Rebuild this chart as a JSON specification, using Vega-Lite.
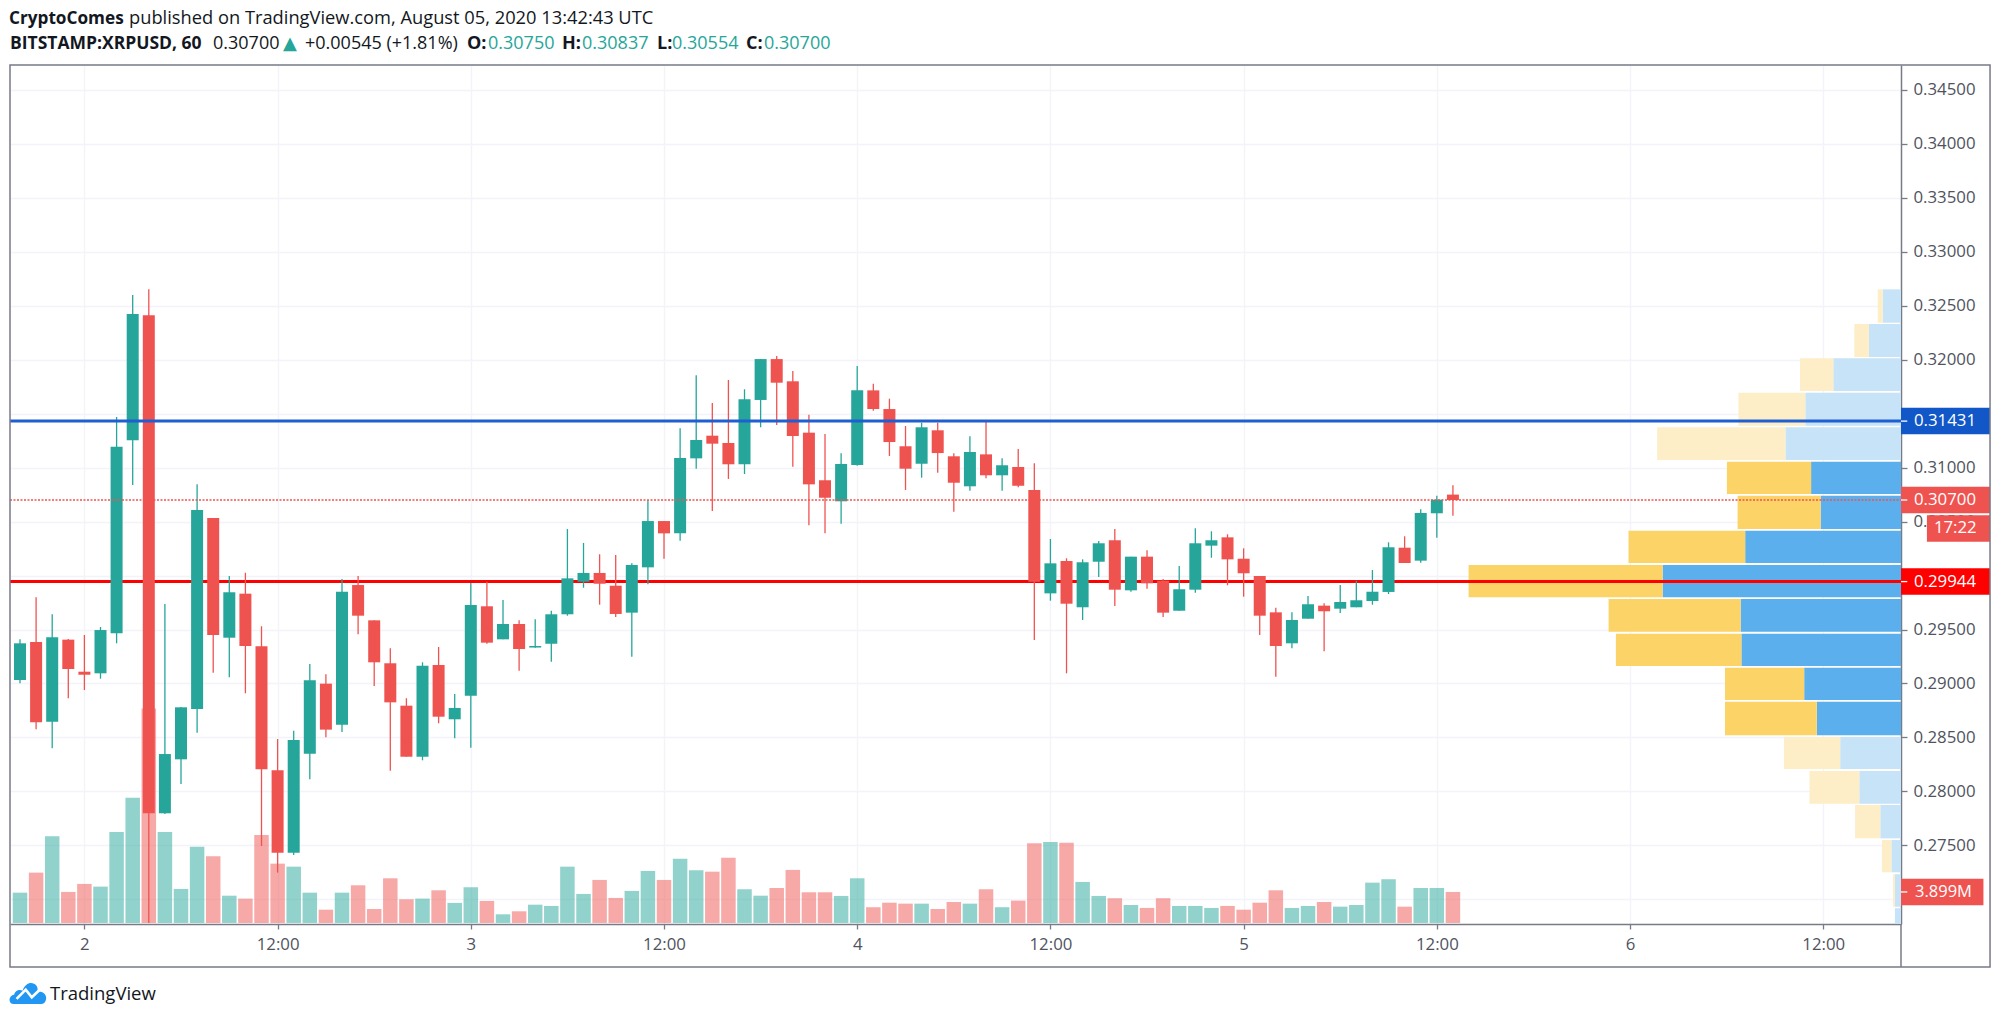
{
  "$schema": "https://vega.github.io/schema/vega-lite/v6.json",
  "autosize": {"type": "none"},
  "width": 1891,
  "height": 859,
  "padding": {"left": 10, "top": 65, "right": 99, "bottom": 97},
  "background": "white",
  "config": {"view": {"stroke": null}},
  "datasets": {
    "candles": [
      {"hour":-4,"open":0.29032,"high":0.29409,"low":0.29002,"close":0.29372,"volume":3.81},
      {"hour":-3,"open":0.29384,"high":0.29798,"low":0.28575,"close":0.2864,"volume":6.33},
      {"hour":-2,"open":0.28646,"high":0.29641,"low":0.28399,"close":0.29428,"volume":10.91},
      {"hour":-1,"open":0.29406,"high":0.29412,"low":0.28863,"close":0.29134,"volume":3.9},
      {"hour":0,"open":0.29109,"high":0.29449,"low":0.28939,"close":0.29081,"volume":4.91},
      {"hour":1,"open":0.29094,"high":0.29523,"low":0.29044,"close":0.29495,"volume":4.57},
      {"hour":2,"open":0.29465,"high":0.31469,"low":0.29372,"close":0.31194,"volume":11.45},
      {"hour":3,"open":0.31253,"high":0.326,"low":0.30839,"close":0.32423,"volume":15.76},
      {"hour":4,"open":0.32411,"high":0.32652,"low":0.2678,"close":0.27797,"volume":26.96},
      {"hour":5,"open":0.27797,"high":0.29736,"low":0.27791,"close":0.28346,"volume":11.45},
      {"hour":6,"open":0.28297,"high":0.28782,"low":0.28068,"close":0.28779,"volume":4.28},
      {"hour":7,"open":0.28763,"high":0.30845,"low":0.28544,"close":0.30607,"volume":9.6},
      {"hour":8,"open":0.30533,"high":0.30533,"low":0.291,"close":0.29449,"volume":8.39},
      {"hour":9,"open":0.29424,"high":0.29996,"low":0.29057,"close":0.29845,"volume":3.43},
      {"hour":10,"open":0.29832,"high":0.30026,"low":0.28909,"close":0.29347,"volume":3.06},
      {"hour":11,"open":0.29344,"high":0.2953,"low":0.27494,"close":0.28205,"volume":11.07},
      {"hour":12,"open":0.28195,"high":0.28485,"low":0.27247,"close":0.27432,"volume":7.46},
      {"hour":13,"open":0.27432,"high":0.28562,"low":0.27411,"close":0.28476,"volume":7.08},
      {"hour":14,"open":0.28349,"high":0.2918,"low":0.28112,"close":0.29029,"volume":3.81},
      {"hour":15,"open":0.28998,"high":0.29085,"low":0.28501,"close":0.28572,"volume":1.67},
      {"hour":16,"open":0.28618,"high":0.29968,"low":0.2855,"close":0.2985,"volume":3.81},
      {"hour":17,"open":0.29912,"high":0.29996,"low":0.29456,"close":0.29628,"volume":4.74},
      {"hour":18,"open":0.29585,"high":0.29585,"low":0.28977,"close":0.29196,"volume":1.76},
      {"hour":19,"open":0.29187,"high":0.29326,"low":0.28192,"close":0.28825,"volume":5.62},
      {"hour":20,"open":0.28794,"high":0.28863,"low":0.28321,"close":0.28321,"volume":2.98},
      {"hour":21,"open":0.28321,"high":0.29196,"low":0.28288,"close":0.29165,"volume":3.06},
      {"hour":22,"open":0.29171,"high":0.29338,"low":0.28631,"close":0.28692,"volume":4.11},
      {"hour":23,"open":0.28668,"high":0.28902,"low":0.28492,"close":0.28773,"volume":2.52},
      {"hour":24,"open":0.28887,"high":0.29931,"low":0.28405,"close":0.29727,"volume":4.49},
      {"hour":25,"open":0.29715,"high":0.29943,"low":0.29368,"close":0.29378,"volume":2.77},
      {"hour":26,"open":0.29409,"high":0.29773,"low":0.29409,"close":0.29551,"volume":1.09},
      {"hour":27,"open":0.29551,"high":0.29585,"low":0.29118,"close":0.29319,"volume":1.47},
      {"hour":28,"open":0.29333,"high":0.29595,"low":0.29331,"close":0.29347,"volume":2.3},
      {"hour":29,"open":0.29368,"high":0.29674,"low":0.29202,"close":0.29641,"volume":2.14},
      {"hour":30,"open":0.29641,"high":0.30431,"low":0.29628,"close":0.29974,"volume":7.08},
      {"hour":31,"open":0.29943,"high":0.30302,"low":0.29887,"close":0.30024,"volume":3.65},
      {"hour":32,"open":0.30024,"high":0.30197,"low":0.2973,"close":0.29924,"volume":5.41},
      {"hour":33,"open":0.29906,"high":0.3019,"low":0.29616,"close":0.29644,"volume":3.15},
      {"hour":34,"open":0.29656,"high":0.30113,"low":0.29248,"close":0.30098,"volume":4.03},
      {"hour":35,"open":0.30076,"high":0.30697,"low":0.29919,"close":0.30505,"volume":6.54},
      {"hour":36,"open":0.30505,"high":0.30505,"low":0.30156,"close":0.30391,"volume":5.41},
      {"hour":37,"open":0.30391,"high":0.31364,"low":0.30323,"close":0.31089,"volume":8.09},
      {"hour":38,"open":0.31086,"high":0.31855,"low":0.3099,"close":0.31256,"volume":6.63},
      {"hour":39,"open":0.31296,"high":0.31599,"low":0.30598,"close":0.31222,"volume":6.45},
      {"hour":40,"open":0.31228,"high":0.31812,"low":0.30895,"close":0.31031,"volume":8.21},
      {"hour":41,"open":0.31031,"high":0.31726,"low":0.30941,"close":0.31633,"volume":4.24},
      {"hour":42,"open":0.31627,"high":0.32006,"low":0.31374,"close":0.32006,"volume":3.43},
      {"hour":43,"open":0.32006,"high":0.32034,"low":0.31395,"close":0.31787,"volume":4.4},
      {"hour":44,"open":0.318,"high":0.31895,"low":0.31009,"close":0.31293,"volume":6.67},
      {"hour":45,"open":0.31324,"high":0.3149,"low":0.30466,"close":0.30845,"volume":3.86},
      {"hour":46,"open":0.30883,"high":0.31312,"low":0.30391,"close":0.30721,"volume":3.86},
      {"hour":47,"open":0.30688,"high":0.31133,"low":0.3048,"close":0.31034,"volume":3.4},
      {"hour":48,"open":0.31024,"high":0.31942,"low":0.31018,"close":0.31716,"volume":5.62},
      {"hour":49,"open":0.31716,"high":0.31778,"low":0.31527,"close":0.31543,"volume":1.98},
      {"hour":50,"open":0.31543,"high":0.31639,"low":0.31108,"close":0.31237,"volume":2.55},
      {"hour":51,"open":0.31198,"high":0.31386,"low":0.30793,"close":0.3099,"volume":2.43},
      {"hour":52,"open":0.31036,"high":0.31416,"low":0.30907,"close":0.31374,"volume":2.43},
      {"hour":53,"open":0.31346,"high":0.31416,"low":0.30953,"close":0.31135,"volume":1.76},
      {"hour":54,"open":0.31105,"high":0.31133,"low":0.30592,"close":0.3086,"volume":2.64},
      {"hour":55,"open":0.30827,"high":0.3129,"low":0.30786,"close":0.31145,"volume":2.43},
      {"hour":56,"open":0.31123,"high":0.31426,"low":0.30901,"close":0.30929,"volume":4.24},
      {"hour":57,"open":0.30929,"high":0.31086,"low":0.30786,"close":0.31022,"volume":1.98},
      {"hour":58,"open":0.31006,"high":0.31173,"low":0.30818,"close":0.30832,"volume":2.81},
      {"hour":59,"open":0.30793,"high":0.3104,"low":0.29403,"close":0.29943,"volume":10.03},
      {"hour":60,"open":0.29835,"high":0.30339,"low":0.29767,"close":0.30113,"volume":10.19},
      {"hour":61,"open":0.30135,"high":0.3016,"low":0.29094,"close":0.29739,"volume":10.1},
      {"hour":62,"open":0.29706,"high":0.3015,"low":0.29588,"close":0.30123,"volume":5.16},
      {"hour":63,"open":0.30128,"high":0.3032,"low":0.29987,"close":0.30299,"volume":3.4},
      {"hour":64,"open":0.30327,"high":0.30431,"low":0.29718,"close":0.29869,"volume":3.11},
      {"hour":65,"open":0.29863,"high":0.30175,"low":0.2985,"close":0.30175,"volume":2.26},
      {"hour":66,"open":0.30175,"high":0.30234,"low":0.29878,"close":0.29928,"volume":1.89},
      {"hour":67,"open":0.29952,"high":0.29968,"low":0.29616,"close":0.29656,"volume":3.11},
      {"hour":68,"open":0.29674,"high":0.30088,"low":0.29674,"close":0.29873,"volume":2.14},
      {"hour":69,"open":0.29869,"high":0.30438,"low":0.29841,"close":0.30299,"volume":2.14},
      {"hour":70,"open":0.30277,"high":0.3041,"low":0.30165,"close":0.30327,"volume":1.89},
      {"hour":71,"open":0.30354,"high":0.30382,"low":0.2991,"close":0.3015,"volume":2.14},
      {"hour":72,"open":0.30156,"high":0.30252,"low":0.29804,"close":0.30021,"volume":1.67},
      {"hour":73,"open":0.29996,"high":0.29996,"low":0.29449,"close":0.29628,"volume":2.55},
      {"hour":74,"open":0.29659,"high":0.29702,"low":0.29063,"close":0.29347,"volume":4.11},
      {"hour":75,"open":0.29372,"high":0.29659,"low":0.29326,"close":0.29588,"volume":1.89},
      {"hour":76,"open":0.296,"high":0.2981,"low":0.296,"close":0.29734,"volume":2.14},
      {"hour":77,"open":0.29721,"high":0.29743,"low":0.29298,"close":0.29669,"volume":2.64},
      {"hour":78,"open":0.29693,"high":0.29912,"low":0.29653,"close":0.29755,"volume":2.05},
      {"hour":79,"open":0.29706,"high":0.29952,"low":0.29706,"close":0.29771,"volume":2.26},
      {"hour":80,"open":0.29764,"high":0.30051,"low":0.2973,"close":0.2985,"volume":5.07},
      {"hour":81,"open":0.29848,"high":0.30308,"low":0.29829,"close":0.30262,"volume":5.5},
      {"hour":82,"open":0.30258,"high":0.30364,"low":0.30116,"close":0.30116,"volume":2.05},
      {"hour":83,"open":0.30138,"high":0.30614,"low":0.30119,"close":0.3058,"volume":4.4},
      {"hour":84,"open":0.30577,"high":0.3074,"low":0.30351,"close":0.30703,"volume":4.4},
      {"hour":85,"open":0.3075,"high":0.30837,"low":0.30554,"close":0.307,"volume":3.899}
    ],
    "profile": [
      {"low":0.32343,"high":0.32652,"part":"upOut","from":0,"to":18.4},
      {"low":0.32343,"high":0.32652,"part":"downOut","from":18.4,"to":23.3},
      {"low":0.32025,"high":0.32331,"part":"upOut","from":0,"to":32.1},
      {"low":0.32025,"high":0.32331,"part":"downOut","from":32.1,"to":46.7},
      {"low":0.3171,"high":0.32013,"part":"upOut","from":0,"to":67.7},
      {"low":0.3171,"high":0.32013,"part":"downOut","from":67.7,"to":101},
      {"low":0.31388,"high":0.31694,"part":"upOut","from":0,"to":95.7},
      {"low":0.31388,"high":0.31694,"part":"downOut","from":95.7,"to":162.6},
      {"low":0.31071,"high":0.31374,"part":"upOut","from":0,"to":115.6},
      {"low":0.31071,"high":0.31374,"part":"downOut","from":115.6,"to":243.8},
      {"low":0.30756,"high":0.31055,"part":"up","from":0,"to":89.9},
      {"low":0.30756,"high":0.31055,"part":"down","from":89.9,"to":174.1},
      {"low":0.30431,"high":0.3074,"part":"up","from":0,"to":80.4},
      {"low":0.30431,"high":0.3074,"part":"down","from":80.4,"to":163.4},
      {"low":0.30116,"high":0.30416,"part":"up","from":0,"to":155.8},
      {"low":0.30116,"high":0.30416,"part":"down","from":155.8,"to":272.5},
      {"low":0.29798,"high":0.30098,"part":"up","from":0,"to":238.4},
      {"low":0.29798,"high":0.30098,"part":"down","from":238.4,"to":432.4},
      {"low":0.2948,"high":0.29783,"part":"up","from":0,"to":160.4},
      {"low":0.2948,"high":0.29783,"part":"down","from":160.4,"to":292.4},
      {"low":0.29162,"high":0.29461,"part":"up","from":0,"to":159.6},
      {"low":0.29162,"high":0.29461,"part":"down","from":159.6,"to":285.1},
      {"low":0.28847,"high":0.29146,"part":"up","from":0,"to":96.8},
      {"low":0.28847,"high":0.29146,"part":"down","from":96.8,"to":176},
      {"low":0.2852,"high":0.28831,"part":"up","from":0,"to":84.2},
      {"low":0.2852,"high":0.28831,"part":"down","from":84.2,"to":176},
      {"low":0.28207,"high":0.28504,"part":"upOut","from":0,"to":60.8},
      {"low":0.28207,"high":0.28504,"part":"downOut","from":60.8,"to":117.1},
      {"low":0.27886,"high":0.28189,"part":"upOut","from":0,"to":41.7},
      {"low":0.27886,"high":0.28189,"part":"downOut","from":41.7,"to":91.5},
      {"low":0.27565,"high":0.27874,"part":"upOut","from":0,"to":20.7},
      {"low":0.27565,"high":0.27874,"part":"downOut","from":20.7,"to":45.9},
      {"low":0.2725,"high":0.27549,"part":"upOut","from":0,"to":9.6},
      {"low":0.2725,"high":0.27549,"part":"downOut","from":9.6,"to":19.1},
      {"low":0.26931,"high":0.27232,"part":"upOut","from":0,"to":6.1},
      {"low":0.26931,"high":0.27232,"part":"downOut","from":6.1,"to":8},
      {"low":0.26771,"high":0.26917,"part":"upOut","from":0,"to":6.1}
    ],
    "tags": [
      {"price":0.31431,"label":"0.31431","kind":"blue"},
      {"price":0.307,"label":"0.30700","kind":"last"},
      {"price":0.29944,"label":"0.29944","kind":"red"}
    ]
  },
  "resolve": {
    "scale": {"x": "independent", "y": "independent", "color": "independent"},
    "axis": {"x": "independent", "y": "independent"}
  },
  "layer": [
    {
      "layer": [
        {
          "data": {"name": "candles"},
          "mark": {"type": "bar", "size": 14.5, "opacity": 0.5},
          "encoding": {
            "x": {"field": "hour", "type": "quantitative", "axis": null, "scale": {"domain": [-4.621, 112.83], "nice": false, "zero": false, "padding": 0}},
            "y": {"field": "volume", "type": "quantitative", "axis": null, "stack": null, "scale": {"domain": [-0.13, 107.9], "zero": false, "nice": false}},
            "color": {"condition": {"test": "datum.close >= datum.open", "value": "#26a69a"}, "value": "#ef5350"}
          }
        },
        {
          "data": {"values": [{"volume": 3.899, "label": "3.899M"}]},
          "mark": {"type": "rule", "strokeWidth": 26.5, "color": "#ef5350"},
          "encoding": {
            "x": {"datum": 112.83, "type": "quantitative", "axis": null},
            "x2": {"datum": 117.95},
            "y": {"field": "volume", "type": "quantitative", "axis": null}
          }
        },
        {
          "data": {"values": [{"volume": 3.899, "label": "3.899M"}]},
          "mark": {"type": "rule", "strokeWidth": 1.3, "color": "white"},
          "encoding": {
            "x": {"datum": 112.83, "type": "quantitative", "axis": null},
            "x2": {"datum": 113.22},
            "y": {"field": "volume", "type": "quantitative", "axis": null}
          }
        },
        {
          "data": {"values": [{"volume": 3.899, "label": "3.899M"}]},
          "mark": {"type": "text", "align": "left", "baseline": "middle", "dx": 14, "color": "white", "font": "Open Sans", "fontSize": 16.5},
          "encoding": {
            "x": {"datum": 112.83, "type": "quantitative", "axis": null},
            "y": {"field": "volume", "type": "quantitative", "axis": null},
            "text": {"field": "label"}
          }
        }
      ]
    },
    {
      "data": {"name": "profile"},
      "mark": {"type": "rect"},
      "encoding": {
        "x": {"field": "from", "type": "quantitative", "axis": null, "scale": {"domain": [0, 1891], "reverse": true, "nice": false, "zero": false}},
        "x2": {"field": "to"},
        "y": {"field": "low", "type": "quantitative", "axis": null, "scale": {"domain": [0.26771, 0.34731], "nice": false, "zero": false}},
        "y2": {"field": "high"},
        "color": {"field": "part", "type": "nominal", "legend": null, "scale": {"domain": ["up", "down", "upOut", "downOut"], "range": ["#5aafec", "#fbd366", "#c6e3f7", "#fdeec8"]}}
      }
    },
    {
      "layer": [
        {
          "data": {"values": [{}]},
          "mark": {"type": "rule", "color": "#ff0000", "strokeWidth": 3},
          "encoding": {
            "y": {
              "datum": 0.29944,
              "type": "quantitative",
              "scale": {"domain": [0.26771, 0.34731], "nice": false, "zero": false},
              "axis": {"orient": "right", "title": null, "values": [0.27,0.275,0.28,0.285,0.29,0.295,0.3,0.305,0.31,0.315,0.32,0.325,0.33,0.335,0.34,0.345], "labelExpr": "datum.value === 0.3 || datum.value === 0.315 ? '' : format(datum.value, '.5f')", "grid": true, "gridColor": "#f2f4f9", "gridWidth": 1.4, "domainColor": "#787b86", "domainWidth": 1.5, "tickColor": "#787b86", "tickWidth": 1.3, "tickSize": 6, "labelColor": "#50535e", "labelFont": "Open Sans", "labelFontSize": 16.8, "labelPadding": 6, "labelOverlap": false}
            },
            "x": {
              "datum": -4.621,
              "type": "quantitative",
              "scale": {"domain": [-4.621, 112.83], "nice": false, "zero": false, "padding": 0},
              "axis": {"orient": "bottom", "title": null, "values": [0,12,24,36,48,60,72,84,96,108], "labelExpr": "datum.value % 24 === 0 ? '' + (2 + datum.value / 24) : '12:00'", "grid": true, "gridColor": "#f2f4f9", "gridWidth": 1.4, "domainColor": "#787b86", "domainWidth": 1.5, "tickColor": "#787b86", "tickWidth": 1.3, "tickSize": 5, "labelColor": "#50535e", "labelFont": "Open Sans", "labelFontSize": 16.8, "labelPadding": 7, "labelFlush": false, "labelOverlap": false}
            },
            "x2": {"datum": 112.83}
          }
        },
        {
          "data": {"name": "candles"},
          "mark": {"type": "rule", "strokeWidth": 1.3},
          "encoding": {
            "x": {"field": "hour", "type": "quantitative"},
            "y": {"field": "low", "type": "quantitative"},
            "y2": {"field": "high"},
            "color": {"condition": {"test": "datum.close >= datum.open", "value": "#26a69a"}, "value": "#ef5350"}
          }
        },
        {
          "data": {"name": "candles"},
          "mark": {"type": "bar", "size": 12},
          "encoding": {
            "x": {"field": "hour", "type": "quantitative"},
            "y": {"field": "open", "type": "quantitative"},
            "y2": {"field": "close"},
            "color": {"condition": {"test": "datum.close >= datum.open", "value": "#26a69a"}, "value": "#ef5350"}
          }
        },
        {
          "data": {"values": [{}]},
          "mark": {"type": "rule", "color": "#1f5fd1", "strokeWidth": 3},
          "encoding": {
            "x": {"datum": -4.621, "type": "quantitative"},
            "x2": {"datum": 112.83},
            "y": {"datum": 0.31431, "type": "quantitative"}
          }
        },
        {
          "data": {"values": [{}]},
          "mark": {"type": "rule", "color": "#ef5350", "strokeWidth": 1.5, "strokeDash": [2, 1.5]},
          "encoding": {
            "x": {"datum": -4.621, "type": "quantitative"},
            "x2": {"datum": 112.83},
            "y": {"datum": 0.307, "type": "quantitative"}
          }
        },
        {
          "data": {"name": "tags"},
          "mark": {"type": "rule", "strokeWidth": 26.5},
          "encoding": {
            "x": {"datum": 112.83, "type": "quantitative"},
            "x2": {"datum": 118.36},
            "y": {"field": "price", "type": "quantitative"},
            "color": {"field": "kind", "type": "nominal", "legend": null, "scale": {"domain": ["blue", "last", "red"], "range": ["#1257c8", "#ef5350", "#ff0000"]}}
          }
        },
        {
          "data": {"name": "tags"},
          "mark": {"type": "rule", "strokeWidth": 1.3, "color": "white"},
          "encoding": {
            "x": {"datum": 112.83, "type": "quantitative"},
            "x2": {"datum": 113.22},
            "y": {"field": "price", "type": "quantitative"}
          }
        },
        {
          "data": {"name": "tags"},
          "mark": {"type": "text", "align": "left", "baseline": "middle", "dx": 13, "color": "white", "font": "Open Sans", "fontSize": 16.8},
          "encoding": {
            "x": {"datum": 112.83, "type": "quantitative"},
            "y": {"field": "price", "type": "quantitative"},
            "text": {"field": "label"}
          }
        },
        {
          "data": {"values": [{"price": 0.30436, "label": "17:22"}]},
          "mark": {"type": "rule", "strokeWidth": 26.5, "color": "#ef5350"},
          "encoding": {
            "x": {"datum": 114.44, "type": "quantitative"},
            "x2": {"datum": 118.36},
            "y": {"field": "price", "type": "quantitative"}
          }
        },
        {
          "data": {"values": [{"price": 0.30436, "label": "17:22"}]},
          "mark": {"type": "text", "align": "left", "baseline": "middle", "dx": 7, "color": "white", "font": "Open Sans", "fontSize": 16.8},
          "encoding": {
            "x": {"datum": 114.44, "type": "quantitative"},
            "y": {"field": "price", "type": "quantitative"},
            "text": {"field": "label"}
          }
        },
        {
          "data": {"values": [{}]},
          "mark": {"type": "rect", "filled": false, "stroke": "#787b86", "strokeWidth": 1.5},
          "encoding": {
            "x": {"datum": -4.621, "type": "quantitative"},
            "x2": {"datum": 118.36},
            "y": {"datum": 0.34731, "type": "quantitative"},
            "y2": {"datum": 0.26373}
          }
        },
        {
          "data": {"values": [{}]},
          "mark": {"type": "rule", "stroke": "#787b86", "strokeWidth": 1.5},
          "encoding": {
            "x": {"datum": 112.83, "type": "quantitative"},
            "y": {"datum": 0.26771, "type": "quantitative"},
            "y2": {"datum": 0.26373}
          }
        },
        {
          "data": {"values": [{}]},
          "encoding": {
            "x": {"datum": -4.621, "type": "quantitative"},
            "y": {"datum": 0.35154, "type": "quantitative"}
          },
          "layer": [
            {"mark": {"type": "text", "align": "left", "baseline": "middle", "dx": -1, "font": "Open Sans", "fontSize": 17.2, "fontWeight": "bold", "color": "#131722"}, "encoding": {"text": {"value": "CryptoComes"}}},
            {"mark": {"type": "text", "align": "left", "baseline": "middle", "dx": 119, "font": "Open Sans", "fontSize": 18.3, "color": "#131722"}, "encoding": {"text": {"value": "published on TradingView.com, August 05, 2020 13:42:43 UTC"}}}
          ]
        },
        {
          "data": {"values": [{}]},
          "encoding": {
            "x": {"datum": -4.621, "type": "quantitative"},
            "y": {"datum": 0.34923, "type": "quantitative"}
          },
          "layer": [
            {"mark": {"type": "text", "align": "left", "baseline": "middle", "dx": 0, "font": "Open Sans", "fontSize": 17.5, "fontWeight": "bold", "color": "#131722"}, "encoding": {"text": {"value": "BITSTAMP:XRPUSD, 60"}}},
            {"mark": {"type": "text", "align": "left", "baseline": "middle", "dx": 203, "font": "Open Sans", "fontSize": 18, "color": "#131722"}, "encoding": {"text": {"value": "0.30700"}}},
            {"mark": {"type": "text", "align": "left", "baseline": "middle", "dx": 273, "font": "DejaVu Sans", "fontSize": 18, "color": "#26a69a"}, "encoding": {"text": {"value": "▲"}}},
            {"mark": {"type": "text", "align": "left", "baseline": "middle", "dx": 295, "font": "Open Sans", "fontSize": 18, "color": "#131722"}, "encoding": {"text": {"value": "+0.00545 (+1.81%)"}}},
            {"mark": {"type": "text", "align": "left", "baseline": "middle", "dx": 457, "font": "Open Sans", "fontSize": 18, "fontWeight": "bold", "color": "#131722"}, "encoding": {"text": {"value": "O:"}}},
            {"mark": {"type": "text", "align": "left", "baseline": "middle", "dx": 478, "font": "Open Sans", "fontSize": 18, "color": "#26a69a"}, "encoding": {"text": {"value": "0.30750"}}},
            {"mark": {"type": "text", "align": "left", "baseline": "middle", "dx": 552, "font": "Open Sans", "fontSize": 18, "fontWeight": "bold", "color": "#131722"}, "encoding": {"text": {"value": "H:"}}},
            {"mark": {"type": "text", "align": "left", "baseline": "middle", "dx": 572, "font": "Open Sans", "fontSize": 18, "color": "#26a69a"}, "encoding": {"text": {"value": "0.30837"}}},
            {"mark": {"type": "text", "align": "left", "baseline": "middle", "dx": 647, "font": "Open Sans", "fontSize": 18, "fontWeight": "bold", "color": "#131722"}, "encoding": {"text": {"value": "L:"}}},
            {"mark": {"type": "text", "align": "left", "baseline": "middle", "dx": 662, "font": "Open Sans", "fontSize": 18, "color": "#26a69a"}, "encoding": {"text": {"value": "0.30554"}}},
            {"mark": {"type": "text", "align": "left", "baseline": "middle", "dx": 736, "font": "Open Sans", "fontSize": 18, "fontWeight": "bold", "color": "#131722"}, "encoding": {"text": {"value": "C:"}}},
            {"mark": {"type": "text", "align": "left", "baseline": "middle", "dx": 754, "font": "Open Sans", "fontSize": 18, "color": "#26a69a"}, "encoding": {"text": {"value": "0.30700"}}}
          ]
        },
        {
          "data": {"values": [{}]},
          "encoding": {
            "x": {"datum": -3.503, "type": "quantitative"},
            "y": {"datum": 0.26127, "type": "quantitative"}
          },
          "layer": [
            {"mark": {"type": "point", "shape": "M-0.75,0.55 C-1.05,0.55 -1.05,0.1 -0.72,0.05 C-0.7,-0.15 -0.45,-0.25 -0.28,-0.15 C-0.2,-0.42 0,-0.55 0.15,-0.55 C0.4,-0.55 0.55,-0.35 0.5,-0.1 C0.8,-0.15 1,0.1 0.95,0.3 C0.92,0.48 0.8,0.55 0.7,0.55 Z", "filled": true, "fill": "#2196f3", "size": 1444, "opacity": 1, "strokeWidth": 0}},
            {"mark": {"type": "point", "shape": "M-0.6,0.28 L-0.12,-0.2 L0.2,0.2 L0.62,-0.2", "filled": false, "fill": null, "stroke": "white", "size": 1444, "opacity": 1, "strokeWidth": 2.6}}
          ]
        },
        {
          "data": {"values": [{}]},
          "mark": {"type": "text", "align": "left", "baseline": "middle", "dx": 40, "font": "Open Sans", "fontSize": 18.5, "color": "#131722"},
          "encoding": {
            "x": {"datum": -4.621, "type": "quantitative"},
            "y": {"datum": 0.26122, "type": "quantitative"},
            "text": {"value": "TradingView"}
          }
        }
      ]
    }
  ]
}
